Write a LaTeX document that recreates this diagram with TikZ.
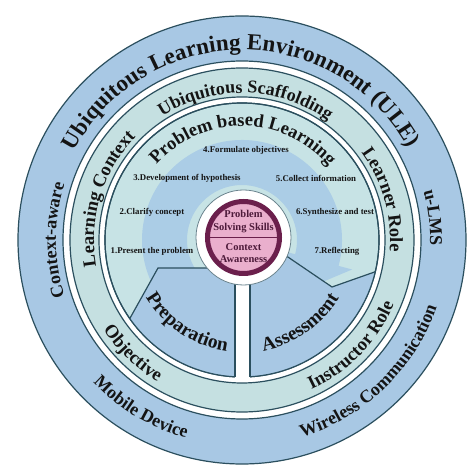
\documentclass[tikz,border=0pt]{standalone}
\usepackage{fontspec}
\setmainfont{Liberation Serif}
\usetikzlibrary{decorations.text}
\definecolor{ringblue}{HTML}{A8C8E4}
\definecolor{ringteal}{HTML}{C5E0E1}
\definecolor{diskbg}{HTML}{C7E3E5}
\definecolor{arrowblue}{HTML}{ABCDE6}
\definecolor{darkline}{HTML}{2B4F5E}
\definecolor{hubpink}{HTML}{EAAFCD}
\definecolor{hubmaroon}{HTML}{6B1F4C}
\definecolor{hubtextc}{HTML}{4D1A3A}
\definecolor{inkc}{HTML}{141414}
\newcommand\cwtext[4]{\path[decorate,decoration={text along path,text align=center,text color=inkc,text={|\fontsize{#3}{#3}\selectfont\bfseries|#4}}] ({#2+70}:#1) arc[start angle={#2+70}, end angle={#2-70}, radius=#1];}
\newcommand\ccwtext[4]{\path[decorate,decoration={text along path,text align=center,text color=inkc,text={|\fontsize{#3}{#3}\selectfont\bfseries|#4}}] ({#2-70}:#1) arc[start angle={#2-70}, end angle={#2+70}, radius=#1];}
\begin{document}
\begin{tikzpicture}[x=1pt,y=1pt,
  ringline/.style={draw=darkline, line width=1.2pt},
  steplabel/.style={font=\fontsize{8.8}{10}\selectfont\bfseries, text=inkc, inner sep=0pt},
  hubtext/.style={font=\fontsize{10.5}{12.5}\selectfont\bfseries, text=hubtextc, align=center, inner sep=0pt}]
\useasboundingbox (-242,-230) rectangle (232,240);
\fill[white] (-242,-230) rectangle (232,240);
% rings
\path[ringline, fill=ringblue] (0,0) circle[radius=224];
\path[ringline, fill=white] (0,0) circle[radius=179];
\path[ringline, fill=ringteal] (0,0) circle[radius=172];
\path[ringline, fill=white] (0,0) circle[radius=143];
\path[ringline, fill=diskbg] (0,0) circle[radius=137];
% circular arrow band
\fill[arrowblue] (215:55) arc[start angle=215, end angle=-15, radius=55] -- (-15:44) -- (-38:80) -- (-15:114) -- (-15:100) arc[start angle=-15, end angle=215, radius=100] -- (205:77) -- cycle;
% lower regions
\fill[ringblue] (-30,-28) -- (-84,-28) -- (215:137) arc[start angle=215, end angle=268, radius=137] -- (-7,-40) -- cycle;
\fill[ringblue] (40,-13) -- (90,-47) -- (-13.4:137) arc[start angle=-13.4, end angle=-92, radius=137] -- (8,-40) -- cycle;
\draw[ringline] (0,0) circle[radius=137];
\draw[ringline] (-30,-28) -- (-84,-28) -- (215:137);
\draw[ringline] (40,-13) -- (90,-47) -- (-13.4:137);
% stem
\fill[white] (-7,-40) rectangle (8,-141);
\draw[ringline] (-7,-40) -- (-7,-136.8);
\draw[ringline] (8,-40) -- (8,-136.8);
% hub
\node[circle, draw=darkline!70, line width=0.8pt, fill=white, minimum size=95pt, inner sep=0pt] (hubw) at (1.5,2.5) {};
\node[circle, draw=hubmaroon, line width=5pt, fill=hubpink, minimum size=72pt, inner sep=0pt, outer sep=0pt] (hubp) at (1.5,2.5) {};
\draw[hubmaroon, line width=0.8pt] (hubp.west) -- (hubp.east);
\node[hubtext] (pss) at (1.5,18.5) {Problem\\Solving Skills};
\node[hubtext] (ca) at (1.5,-13) {Context\\Awareness};
% step labels
\node[steplabel] (s1) at (-90,-11) {1.Present the problem};
\node[steplabel] (s2) at (-90,28) {2.Clarify concept};
\node[steplabel] (s3) at (-55,62) {3.Development of hypothesis};
\node[steplabel] (s4) at (4,90) {4.Formulate objectives};
\node[steplabel] (s5) at (74,62) {5.Collect information};
\node[steplabel] (s6) at (93,28) {6.Synthesize and test};
\node[steplabel] (s7) at (95,-11) {7.Reflecting};
% outer ring texts
\cwtext{190}{90.5}{23}{Ubiquitous Learning Environment (ULE)}
\cwtext{186}{180}{18}{Context-aware}
\cwtext{188}{6.7}{18}{u-LMS}
\ccwtext{206}{239}{18}{Mobile Device}
\ccwtext{206}{314}{18}{Wireless Communication}
% teal ring texts
\cwtext{147}{88.5}{18}{Ubiquitous Scaffolding}
\cwtext{148}{163}{18.5}{Learning Context}
\cwtext{148}{16}{18.5}{Learner Role}
\ccwtext{165}{226}{18.5}{Objective}
\ccwtext{165}{316}{18.5}{Instructor Role}
% disk texts
\cwtext{114}{89.5}{18.5}{Problem based Learning}
\ccwtext{112}{236.5}{19.5}{Preparation}
\ccwtext{113}{305}{19.5}{Assessment}
\end{tikzpicture}
\end{document}
